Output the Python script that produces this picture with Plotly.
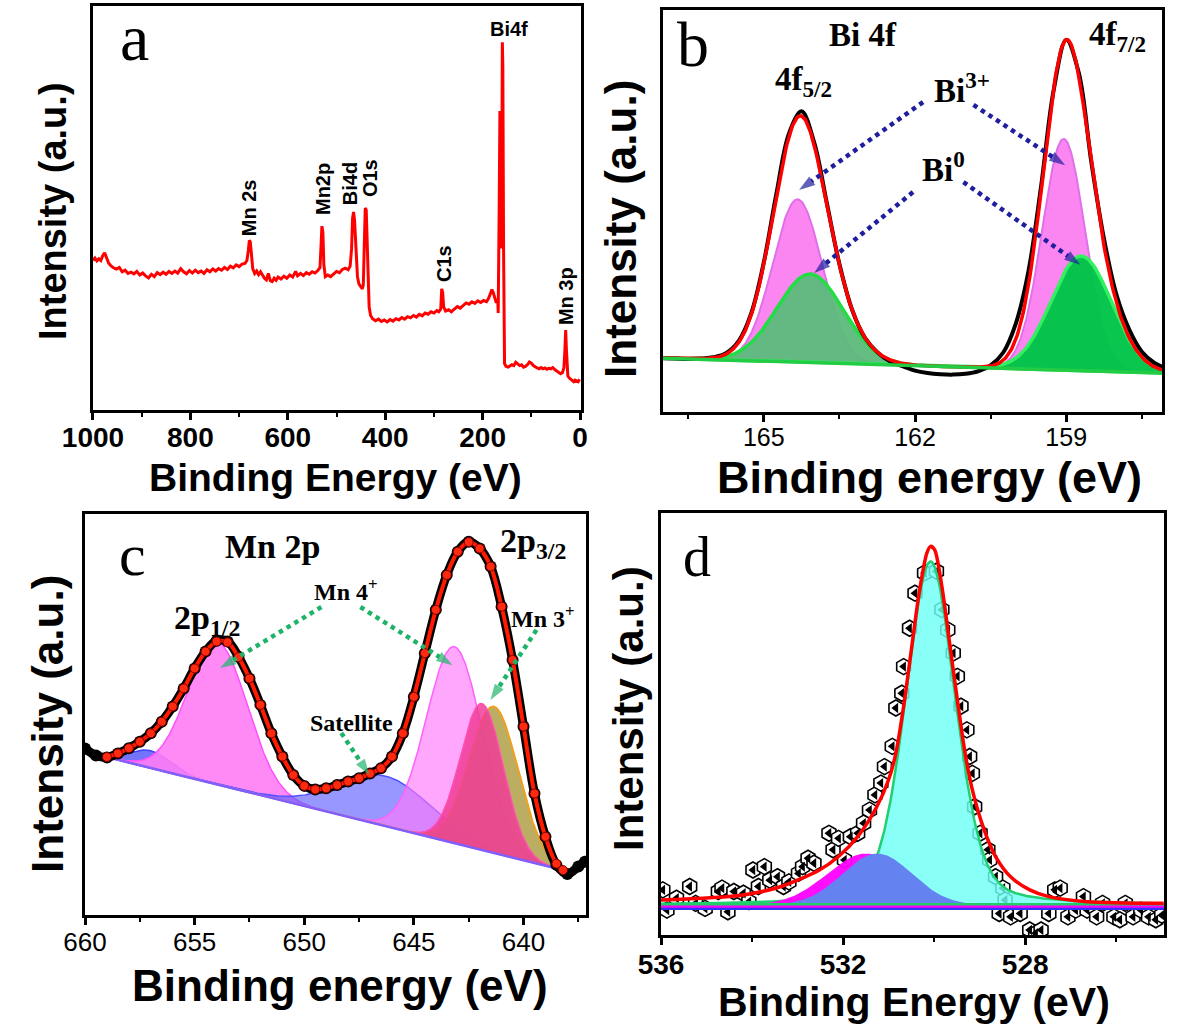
import numpy as np
import plotly.graph_objects as go

# ---------------- Panel a: survey spectrum ----------------
survey_be = [1000, 996, 992, 988, 984, 980, 976, 972, 968, 964, 958, 952, 946, 940, 934, 928, 922, 916, 910, 904,
             898, 892, 886, 880, 874, 868, 862, 856, 850, 844, 838, 832, 826, 820, 814, 808, 802, 796, 790, 784,
             778, 772, 766, 760, 754, 748, 742, 736, 730, 724, 718, 712, 706, 700, 694, 688, 684, 681, 679, 677,
             675, 672, 668, 664, 660, 656, 652, 648, 644, 640, 636, 632, 628, 624, 620, 614, 608, 602, 596, 590,
             584, 580, 574, 568, 562, 556, 550, 544, 538, 534, 532, 530, 528, 526, 523, 518, 512, 506, 500, 494,
             488, 482, 476, 472, 469, 467, 465, 463, 460, 457, 454, 450, 447, 445, 443, 441, 439, 437, 435, 433,
             430, 426, 420, 414, 408, 402, 396, 390, 384, 378, 372, 366, 360, 354, 348, 342, 336, 330, 324, 318,
             312, 306, 300, 294, 290, 286, 284, 282, 280, 276, 270, 264, 258, 252, 246, 240, 234, 228, 222, 216,
             210, 204, 198, 192, 188, 184, 181, 178, 175, 172, 169, 168, 166, 164.5, 163.5, 162, 161, 159.5, 158.5, 157,
             156, 155, 152, 148, 144, 140, 136, 132, 128, 124, 120, 116, 112, 108, 104, 100, 96, 92, 88, 84,
             80, 76, 72, 68, 64, 60, 56, 52, 48, 44, 40, 36, 33, 31, 29.5, 28, 26.5, 25, 22, 19,
             16, 13, 10, 7, 4, 1]
survey_int = [37.0, 37.6, 36.9, 37.4, 37.0, 38.2, 38.9, 37.8, 36.4, 35.8, 35.2, 34.9, 35.3, 34.2, 34.6, 33.8, 34.1, 33.7, 34.3, 33.4,
              33.9, 33.2, 32.7, 33.6, 33.0, 34.0, 33.5, 34.1, 33.6, 34.3, 33.8, 34.4, 33.9, 35.0, 34.2, 33.7, 34.5, 33.9, 34.6, 34.0,
              34.4, 33.8, 34.7, 34.2, 34.9, 34.4, 35.0, 34.6, 35.3, 34.8, 35.6, 35.2, 35.9, 35.5, 36.1, 36.3, 37.0, 39.5, 42.0, 41.6,
              38.5, 35.0, 33.8, 34.4, 33.5, 34.2, 33.4, 32.6, 32.2, 33.8, 32.0, 31.8, 32.6, 32.1, 32.9, 32.4, 33.1, 32.6, 33.4, 32.9,
              34.3, 33.2, 33.8, 33.3, 34.0, 33.6, 34.2, 33.9, 34.6, 35.2, 40.0, 45.5, 44.0, 36.0, 33.0, 33.4, 33.0, 33.6, 34.3, 34.0,
              34.8, 35.1, 34.7, 35.6, 40.0, 47.5, 49.0, 47.0, 38.0, 33.0, 31.2, 30.3, 30.0, 31.0, 40.0, 50.0, 49.5, 40.0, 30.0, 25.5,
              23.4, 22.6, 22.1, 22.5, 21.9, 22.3, 21.8, 22.4, 22.0, 22.6, 22.3, 22.9, 22.5, 23.1, 22.8, 23.4, 23.0, 23.7, 23.3, 24.0,
              23.7, 24.3, 24.0, 24.6, 24.3, 25.0, 30.0, 29.0, 25.5, 24.5, 24.8, 24.3, 25.0, 25.6, 25.2, 25.9, 26.5, 26.2, 26.8, 26.4,
              27.0, 26.6, 27.1, 26.8, 27.6, 28.8, 29.8, 29.0, 27.5, 26.5, 27.5, 24.0, 50.0, 74.0, 70.0, 40.0, 45.0, 91.0, 85.0, 40.0,
              15.0, 11.5, 10.8, 10.6, 10.9, 11.2, 11.0, 11.8, 11.4, 11.0, 11.2, 10.6, 10.8, 11.2, 11.9, 11.6, 11.0, 10.6, 10.4, 10.2,
              10.5, 10.2, 10.4, 10.1, 10.3, 10.2, 10.5, 10.0, 9.6, 9.2, 9.0, 9.3, 10.5, 15.0, 19.8, 15.0, 9.0, 8.4, 7.9, 7.6,
              7.2, 7.0, 7.4, 7.1, 7.0, 7.6]
survey_labels = ["Mn 2s", "Mn2p", "Bi4d", "O1s", "C1s", "Bi4f", "Mn 3p"]

# ---------------- Panel b: Bi 4f ----------------
bi_be = [167.0, 166.75, 166.5, 166.25, 166.0, 165.75, 165.5, 165.25, 165.0, 164.75, 164.5, 164.25, 164.0, 163.75,
         163.5, 163.25, 163.0, 162.75, 162.5, 162.25, 162.0, 161.75, 161.5, 161.25, 161.0, 160.75, 160.5, 160.25,
         160.0, 159.75, 159.5, 159.25, 159.0, 158.75, 158.5, 158.25, 158.0, 157.75, 157.5, 157.25, 157.0]
bi_int = [13.4, 13.3, 13.2, 13.3, 13.6, 14.6, 17.6, 24.5, 37.2, 54.3, 69.3, 74.8, 67.0, 52.0,
          36.8, 25.5, 18.6, 14.9, 12.6, 11.4, 10.3, 9.7, 9.4, 9.3, 9.5, 10.1, 11.6, 14.8,
          22.0, 35.0, 56.0, 80.0, 92.6, 84.3, 62.0, 43.0, 29.0, 20.5, 15.0, 12.2, 10.8]
bi_bg_be = [167.0, 157.1]
bi_bg_int = [13.4, 9.7]
bi_comp_names = ["Bi3+ 4f5/2", "Bi0 4f5/2", "Bi3+ 4f7/2", "Bi0 4f7/2"]
bi_comp_center = [164.33, 164.08, 159.05, 158.70]
bi_comp_height = [40.5, 22.0, 57.5, 28.5]
bi_comp_fwhm = [1.15, 1.55, 1.0, 1.4]

# ---------------- Panel c: Mn 2p ----------------
mn_be = [660.0, 659.5, 659.0, 658.5, 658.0, 657.5, 657.0, 656.5, 656.0, 655.5, 655.0, 654.5, 654.0, 653.5,
         653.0, 652.5, 652.0, 651.5, 651.0, 650.5, 650.0, 649.5, 649.0, 648.5, 648.0, 647.5, 647.0, 646.5,
         646.0, 645.5, 645.0, 644.5, 644.0, 643.5, 643.0, 642.5, 642.0, 641.5, 641.0, 640.5, 640.0, 639.5,
         639.0, 638.5, 638.0, 637.5, 637.2]
mn_int = [41.5, 39.8, 39.3, 40.3, 41.6, 43.2, 45.3, 48.2, 52.0, 56.5, 61.5, 65.7, 68.4, 68.2,
          64.4, 59.0, 52.4, 45.3, 39.5, 34.9, 32.2, 31.3, 31.6, 32.4, 33.3, 34.1, 35.3, 36.6,
          39.5, 45.3, 54.4, 65.3, 76.1, 84.8, 90.6, 93.1, 91.4, 86.9, 76.9, 63.6, 47.0, 30.3,
          19.5, 12.5, 10.2, 12.1, 13.3]
mn_fit_be = [659.0, 658.5, 658.0, 657.5, 657.0, 656.5, 656.0, 655.5, 655.0, 654.5, 654.0, 653.5,
             653.0, 652.5, 652.0, 651.5, 651.0, 650.5, 650.0, 649.5, 649.0, 648.5, 648.0, 647.5, 647.0, 646.5,
             646.0, 645.5, 645.0, 644.5, 644.0, 643.5, 643.0, 642.5, 642.0, 641.5, 641.0, 640.5, 640.0, 639.5,
             639.0, 638.5, 638.2]
mn_fit_int = [39.4, 40.3, 41.6, 43.2, 45.3, 48.2, 52.0, 56.5, 61.5, 65.7, 68.2, 68.0,
              64.3, 59.0, 52.4, 45.3, 39.5, 34.9, 32.2, 31.3, 31.6, 32.4, 33.3, 34.1, 35.3, 36.6,
              39.5, 45.3, 54.4, 65.3, 76.1, 84.8, 90.6, 93.0, 91.4, 86.9, 76.9, 63.6, 47.0, 30.3,
              19.5, 12.8, 11.2]
mn_bg_be = [659.1, 638.2]
mn_bg_int = [39.5, 11.2]
mn_comp_names = ["Mn4+ 2p1/2 sat", "Mn4+ 2p1/2", "Satellite", "Mn4+ 2p3/2", "Mn3+ 2p3/2", "Mn3+ 2p3/2 (b)"]
mn_comp_center = [657.0, 653.95, 646.3, 643.15, 641.35, 641.9]
mn_comp_height = [4.3, 35.5, 12.5, 49.0, 36.5, 36.5]
mn_comp_fwhm = [2.2, 3.2, 5.0, 3.0, 2.6, 2.3]

# ---------------- Panel d: O 1s ----------------
o_be = [535.96, 535.87, 535.66, 535.37, 535.24, 535.03, 534.74, 534.66, 534.53, 534.40, 534.19, 534.07, 533.98,
        533.86, 533.73, 533.61, 533.44, 533.31, 533.19, 532.98, 532.89, 532.77, 532.64, 532.31, 532.22, 532.10,
        531.97, 531.84, 531.68, 531.55, 531.42, 531.30, 531.17, 531.09, 530.92, 530.84, 530.71, 530.67, 530.54,
        530.42, 530.21, 529.95, 529.83, 529.70, 529.58, 529.49, 529.41, 529.28, 529.22, 529.16, 529.11, 528.99,
        528.82, 528.78, 528.65, 528.49, 528.57, 528.44, 528.32, 528.11, 527.90, 527.77, 527.65, 527.48, 527.35,
        527.23, 527.06, 526.89, 526.72, 526.64, 526.43, 526.30, 526.05, 525.92, 525.80, 525.63, 525.46, 525.29,
        525.13, 525.00]
o_int = [10.7, 5.9, 8.7, 11.5, 7.5, 6.3, 10.3, 11.1, 5.5, 10.3, 9.9, 7.9, 15.4,
         11.5, 16.2, 13.0, 13.8, 11.5, 12.6, 14.6, 16.2, 18.2, 17.0, 24.1, 20.2, 22.9,
         17.8, 23.3, 24.1, 26.5, 29.6, 33.2, 36.0, 39.9, 44.7, 53.8, 57.3, 63.6, 72.7,
         81.0, 85.8, 86.2, 77.1, 72.3, 66.8, 61.3, 54.2, 48.6, 42.3, 38.3, 30.4, 24.1,
         20.2, 17.8, 13.8, 11.1, 5.1, 8.3, 4.3, 5.1, 1.2, 0.4, 1.2, 5.1, 10.7,
         11.1, 4.3, 5.9, 9.1, 5.9, 4.3, 7.5, 4.3, 3.6, 7.5, 4.3, 5.9, 4.3,
         3.6, 4.7]
o_fit_be = [536.0, 534.19, 533.36, 532.52, 532.10, 531.68, 531.26, 531.0, 530.84, 530.67, 530.50, 530.33,
            530.16, 530.08, 529.99, 529.83, 529.66, 529.49, 529.32, 529.16, 528.90, 528.65, 528.32, 527.90,
            527.48, 526.64, 524.96]
o_fit_int = [8.3, 9.5, 11.5, 15.4, 18.6, 23.3, 30.4, 36.8, 43.1, 54.2, 67.6, 81.0,
             90.5, 92.1, 91.3, 82.6, 69.2, 55.7, 43.1, 34.4, 24.9, 18.6, 13.8, 10.7,
             9.1, 7.9, 7.5]
o_bg_int = [7.1]
o_comp_names = ["Lattice O", "Adsorbed O", "Oxygen vacancy"]
o_comp_center = [530.08, 531.5, 531.25]
o_comp_height = [81.4, 12.2, 12.2]
o_comp_fwhm = [1.3, 2.0, 1.8]
o_comp_eta = [0.3, 0.0, 0.0]


def gauss(x, c, h, w):
    return h * np.exp(-4 * np.log(2) * ((x - c) / w) ** 2)


def pvoigt(x, c, h, w, eta):
    g = np.exp(-4 * np.log(2) * ((x - c) / w) ** 2)
    lo = 1.0 / (1.0 + (2 * (x - c) / w) ** 2)
    return h * (eta * lo + (1 - eta) * g)


fig = go.Figure()
SANS = "Liberation Sans, Arial, sans-serif"
SERIF = "Liberation Serif, Times New Roman, serif"


def add_fill(xa, ya, grid, bg, comp, fillcolor, linecolor, lw):
    fig.add_trace(go.Scatter(x=np.concatenate([grid, grid[::-1]]), y=np.concatenate([bg + comp, bg[::-1]]),
                             fill="toself", fillcolor=fillcolor, line=dict(width=0), mode="lines",
                             xaxis=xa, yaxis=ya, hoverinfo="skip"))
    if lw > 0:
        fig.add_trace(go.Scatter(x=grid, y=bg + comp, mode="lines", line=dict(color=linecolor, width=lw),
                                 xaxis=xa, yaxis=ya, hoverinfo="skip"))


def add_arrow(xa, ya, xs, ys, color):
    fig.add_trace(go.Scatter(x=xs, y=ys, mode="lines+markers", xaxis=xa, yaxis=ya,
                             line=dict(color=color, width=4.5, dash="dot"),
                             marker=dict(symbol="arrow", size=[0, 17], color=color, angleref="previous",
                                         line=dict(width=0)),
                             hoverinfo="skip"))


# ---- panel a ----
fig.add_trace(go.Scatter(x=survey_be, y=survey_int, mode="lines", line=dict(color="#ff0000", width=3),
                         xaxis="x", yaxis="y"))

# ---- panel b ----
gb = np.linspace(bi_bg_be[0], bi_bg_be[1], 500)
bgb = np.interp(gb, bi_bg_be[::-1], bi_bg_int[::-1])
comps_b = [gauss(gb, c, h, w) for c, h, w in zip(bi_comp_center, bi_comp_height, bi_comp_fwhm)]
add_fill("x2", "y2", gb, bgb, comps_b[0], "rgba(252,128,240,0.95)", "#e070e8", 2)
add_fill("x2", "y2", gb, bgb, comps_b[2], "rgba(252,128,240,0.95)", "#e070e8", 2)
add_fill("x2", "y2", gb, bgb, comps_b[1], "rgba(92,186,122,0.95)", "#22dd44", 3.5)
add_fill("x2", "y2", gb, bgb, comps_b[3], "rgba(0,196,72,0.97)", "#33f060", 3.5)
fig.add_trace(go.Scatter(x=bi_be, y=bi_int, mode="lines", line=dict(color="black", width=4, shape="spline"),
                         xaxis="x2", yaxis="y2"))
fig.add_trace(go.Scatter(x=gb, y=bgb + sum(comps_b), mode="lines", line=dict(color="#ff0000", width=3.5),
                         xaxis="x2", yaxis="y2"))
fig.add_trace(go.Scatter(x=gb, y=bgb, mode="lines", line=dict(color="#22cc44", width=3.5),
                         xaxis="x2", yaxis="y2"))

# ---- panel c ----
gc = np.linspace(mn_bg_be[0], mn_bg_be[1], 600)
bgc = np.interp(gc, mn_bg_be[::-1], mn_bg_int[::-1])
comps_c = [gauss(gc, c, h, w) for c, h, w in zip(mn_comp_center, mn_comp_height, mn_comp_fwhm)]
add_fill("x3", "y3", gc, bgc, comps_c[0], "rgba(70,70,250,0.75)", "#4040ff", 1.5)
add_fill("x3", "y3", gc, bgc, comps_c[1], "rgba(255,125,245,0.9)", "#ff50ff", 1.5)
add_fill("x3", "y3", gc, bgc, comps_c[2], "rgba(95,95,255,0.65)", "#5050ff", 1.5)
add_fill("x3", "y3", gc, bgc, comps_c[3], "rgba(255,120,250,0.65)", "#ff60ff", 1.5)
add_fill("x3", "y3", gc, bgc, comps_c[4], "rgba(175,160,70,0.85)", "#f0a020", 2)
add_fill("x3", "y3", gc, bgc, comps_c[5], "rgba(240,60,150,0.85)", "#ff50b0", 1.5)
fig.add_trace(go.Scatter(x=gc, y=bgc, mode="lines", line=dict(color="#7f5fff", width=2.5),
                         xaxis="x3", yaxis="y3"))
fig.add_trace(go.Scatter(x=mn_be, y=mn_int, mode="lines+markers", line=dict(color="black", width=9, shape="spline"),
                         marker=dict(symbol="circle", size=12, color="black"), xaxis="x3", yaxis="y3"))
fig.add_trace(go.Scatter(x=mn_fit_be, y=mn_fit_int, mode="lines+markers",
                         line=dict(color="#ff1a00", width=4, shape="spline"),
                         marker=dict(symbol="circle", size=9, color="#ff2a10", line=dict(color="#800000", width=1)),
                         xaxis="x3", yaxis="y3"))

# ---- panel d ----
fig.add_trace(go.Scatter(x=o_be, y=o_int, mode="markers",
                         marker=dict(symbol="hexagon", size=16, color="white", line=dict(color="black", width=1.6)),
                         xaxis="x4", yaxis="y4", cliponaxis=True))
fig.add_trace(go.Scatter(x=o_be, y=o_int, mode="markers",
                         marker=dict(symbol="triangle-left", size=9, color="black"),
                         xaxis="x4", yaxis="y4", cliponaxis=True))
gd = np.linspace(536.0, 524.95, 700)
bgd = np.full_like(gd, o_bg_int[0])
comps_d = [pvoigt(gd, c, h, w, e) for c, h, w, e in zip(o_comp_center, o_comp_height, o_comp_fwhm, o_comp_eta)]
add_fill("x4", "y4", gd, bgd, comps_d[0], "rgba(110,255,245,0.82)", "#20d070", 2.5)
add_fill("x4", "y4", gd, bgd, comps_d[1], "rgba(255,0,255,0.95)", "#ff00ff", 0)
add_fill("x4", "y4", gd, bgd, comps_d[2], "rgba(100,130,240,1.0)", "#6482f0", 0)
fig.add_trace(go.Scatter(x=gd, y=bgd - 0.8, mode="lines", line=dict(color="#3030ff", width=3), xaxis="x4", yaxis="y4"))
fig.add_trace(go.Scatter(x=gd, y=bgd - 0.3, mode="lines", line=dict(color="#ff00ff", width=3), xaxis="x4", yaxis="y4"))
fig.add_trace(go.Scatter(x=gd, y=bgd + 0.2, mode="lines", line=dict(color="#22cc66", width=2.5), xaxis="x4", yaxis="y4"))
fig.add_trace(go.Scatter(x=o_fit_be, y=o_fit_int, mode="lines", line=dict(color="#ff0000", width=3.5, shape="spline", smoothing=0.8),
                         xaxis="x4", yaxis="y4"))

# ---- arrows ----
NAVY = "#1e1e9e"
GREEN = "#1fb36a"
add_arrow("x2", "y2", [161.84, 164.3], [77.1, 55.2], NAVY)
add_arrow("x2", "y2", [160.84, 159.02], [76.4, 61.4], NAVY)
add_arrow("x2", "y2", [162.04, 164.0], [54.7, 34.6], NAVY)
add_arrow("x2", "y2", [161.04, 158.72], [57.2, 36.6], NAVY)
add_arrow("x3", "y3", [649.22, 653.84], [76.8, 61.6], GREEN)
add_arrow("x3", "y3", [647.44, 643.24], [76.8, 62.3], GREEN)
add_arrow("x3", "y3", [639.41, 641.51], [71.1, 53.6], GREEN)
add_arrow("x3", "y3", [648.31, 647.03], [45.4, 34.9], GREEN)


def xaxis(domain, rng, tick0, dtick, minor, anchor, tsize, bold, standoff):
    return dict(domain=domain, range=rng, anchor=anchor, showline=True, linecolor="black", linewidth=3,
                mirror=True, ticks="outside", ticklen=7, tickwidth=2.5, tickcolor="black",
                tick0=tick0, dtick=dtick, showgrid=False, zeroline=False, automargin=False,
                ticklabelstandoff=standoff,
                minor=dict(dtick=minor, tick0=tick0, ticks="outside", ticklen=4, tickwidth=2, tickcolor="black"),
                tickfont=dict(family=SANS, size=tsize, color="black", weight="bold" if bold else "normal"))


def yaxis(domain, anchor):
    return dict(domain=domain, range=[0, 100], anchor=anchor, showline=True, linecolor="black", linewidth=3,
                mirror=True, ticks="", showticklabels=False, showgrid=False, zeroline=False, automargin=False)


ann = []


def txt(xref, yref, x, y, text, size, family=SANS, bold=True, angle=0, xanchor="center", yanchor="middle"):
    ann.append(dict(xref=xref, yref=yref, x=x, y=y, text=text, showarrow=False, textangle=angle,
                    xanchor=xanchor, yanchor=yanchor,
                    font=dict(family=family, size=size, color="black", weight="bold" if bold else "normal")))


# axis titles
txt("paper", "paper", 0.2820, 0.5337, "Binding Energy (eV)", 39)
txt("paper", "paper", 0.0446, 0.7941, "Intensity (a.u.)", 38, angle=-90)
txt("paper", "paper", 0.7828, 0.5337, "Binding energy (eV)", 45)
txt("paper", "paper", 0.5227, 0.7766, "Intensity (a.u.)", 44, angle=-90)
txt("paper", "paper", 0.2862, 0.0385, "Binding energy (eV)", 44)
txt("paper", "paper", 0.0404, 0.2937, "Intensity (a.u.)", 44, angle=-90)
txt("paper", "paper", 0.7694, 0.0220, "Binding Energy (eV)", 41)
txt("paper", "paper", 0.5295, 0.3083, "Intensity (a.u.)", 42, angle=-90)

# panel letters
txt("x", "y", 915.8, 92.1, "a", 66, family=SERIF, bold=False)
txt("x2", "y2", 166.41, 91.3, "b", 64, family=SERIF, bold=False)
txt("x3", "y3", 657.85, 89.8, "c", 60, family=SERIF, bold=False)
txt("x4", "y4", 535.21, 89.6, "d", 56, family=SERIF, bold=False)

# survey labels
label_pos = [(679.7, 50.2), (527.7, 54.7), (472.3, 55.9), (431.2, 57.4), (279.3, 36.4), (145.8, 94.3), (28.7, 28.2)]
for name, (lx, ly) in zip(survey_labels, label_pos):
    if name == "Bi4f":
        txt("x", "y", lx, ly, name, 20)
    else:
        txt("x", "y", lx, ly, name, 20, angle=-90)

# panel b labels
txt("x2", "y2", 163.03, 93.8, "Bi 4f", 33, family=SERIF)
txt("x2", "y2", 164.22, 82.1, "4f<sub>5/2</sub>", 33, family=SERIF)
txt("x2", "y2", 157.98, 93.3, "4f<sub>7/2</sub>", 33, family=SERIF)
txt("x2", "y2", 161.06, 80.6, "Bi<sup>3+</sup>", 33, family=SERIF)
txt("x2", "y2", 161.44, 60.9, "Bi<sup>0</sup>", 33, family=SERIF)

# panel c labels
txt("x3", "y3", 651.46, 91.8, "Mn 2p", 34, family=SERIF)
txt("x3", "y3", 654.43, 73.6, "2p<sub>1/2</sub>", 34, family=SERIF)
txt("x3", "y3", 639.59, 92.8, "2p<sub>3/2</sub>", 34, family=SERIF)
txt("x3", "y3", 648.08, 81.0, "Mn 4<sup>+</sup>", 24, family=SERIF)
txt("x3", "y3", 639.09, 74.3, "Mn 3<sup>+</sup>", 24, family=SERIF)
txt("x3", "y3", 647.85, 47.9, "Satellite", 24, family=SERIF)

fig.update_layout(
    width=1188, height=1025, margin=dict(l=0, r=0, t=0, b=0, autoexpand=False),
    paper_bgcolor="white", plot_bgcolor="white", showlegend=False,
    xaxis=xaxis([0.07828, 0.48906], [1000, -2], 0, 200, 100, "y", 28, True, -7),
    yaxis=yaxis([0.6, 0.99415], "x"),
    xaxis2=xaxis([0.55808, 0.97811], [167.0, 157.1], 159, 3, 1.5, "y2", 25, False, -6),
    yaxis2=yaxis([0.59805, 0.99024], "x2"),
    xaxis3=xaxis([0.07155, 0.49327], [660, 637.15], 640, 5, 2.5, "y3", 26, False, -5),
    yaxis3=yaxis([0.10732, 0.49854], "x3"),
    xaxis4=xaxis([0.55640, 0.97980], [536, 524.95], 528, 4, 2, "y4", 28, True, -5),
    yaxis4=yaxis([0.08780, 0.49951], "x4"),
    annotations=ann,
)

fig.write_html("out.html")
